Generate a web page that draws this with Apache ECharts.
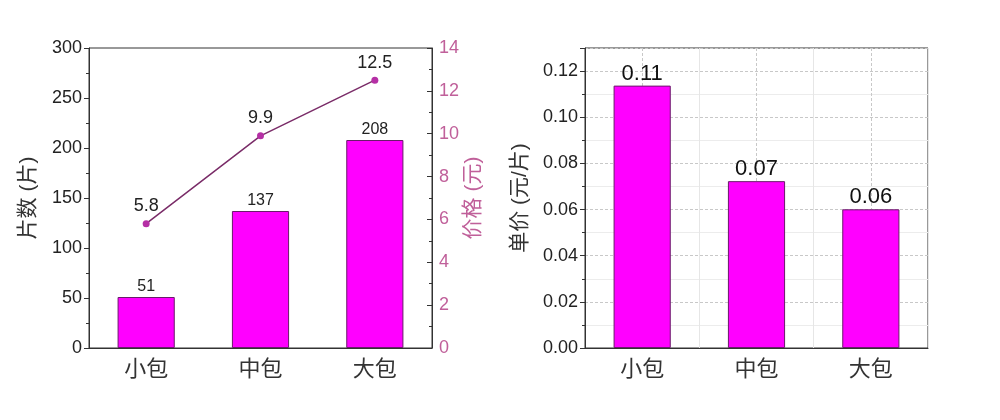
<!DOCTYPE html>
<html>
<head>
<meta charset="utf-8">
<script src="https://cdn.jsdelivr.net/npm/echarts@6/dist/echarts.min.js"></script>
<style>html,body{margin:0;padding:0;background:#fff}#c{width:1000px;height:420px}</style>
</head>
<body>
<div id="c"></div>
<script>
const categories = ['小包', '中包', '大包'];
const pieces = [51, 137, 208];
const prices = [5.8, 9.9, 12.5];
const unitPrices = [0.1137, 0.0723, 0.0601];

const FONT = '"Liberation Sans", Arial, "Noto Sans CJK SC", sans-serif';
const AXIS = '#333';
const PINK = '#c0609a';

// helper axis: half-category steps so split lines can sit on category centres
const halfSteps = [];
for (let i = 0; i <= categories.length * 2; i++) halfSteps.push(String(i));

const chart = echarts.init(document.getElementById('c'));
chart.setOption({
  animation: false,
  backgroundColor: '#fff',
  textStyle: { fontFamily: FONT },
  grid: [
    { left: 89, right: 568, top: 48, bottom: 72, show: true, borderColor: AXIS, borderWidth: 1, containLabel: false },
    { left: 585, right: 72, top: 48, bottom: 72, show: true, borderColor: AXIS, borderWidth: 1, containLabel: false }
  ],
  xAxis: [
    { type: 'category', gridIndex: 0, data: categories,
      axisLine: { lineStyle: { color: AXIS, width: 1 } }, axisTick: { show: false },
      axisLabel: { color: '#333', fontSize: 22, margin: 11, fontFamily: FONT } },
    { type: 'category', gridIndex: 1, data: categories,
      axisLine: { lineStyle: { color: AXIS, width: 1 } }, axisTick: { show: false },
      splitLine: { show: true, lineStyle: { color: '#e6e6e6', width: 1 } },
      axisLabel: { color: '#333', fontSize: 22, margin: 11, fontFamily: FONT } },
    { type: 'category', gridIndex: 1, data: halfSteps, boundaryGap: false, position: 'top',
      axisLine: { show: false }, axisTick: { show: false }, axisLabel: { show: false },
      splitLine: { show: true, interval: (i) => i % 2 === 1,
        lineStyle: { color: '#c8c8c8', type: [3, 2], width: 1 } } }
  ],
  yAxis: [
    { type: 'value', gridIndex: 0, min: 0, max: 300, interval: 50,
      name: '片数 (片)', nameLocation: 'middle', nameGap: 50, nameRotate: 90,
      nameTextStyle: { color: '#333', fontSize: 21, fontFamily: FONT },
      axisLine: { show: true, lineStyle: { color: AXIS } },
      axisTick: { show: true, length: 5, lineStyle: { color: AXIS } },
      minorTick: { show: true, splitNumber: 2, length: 3, lineStyle: { color: AXIS } },
      splitLine: { show: false },
      axisLabel: { color: '#222', fontSize: 18, margin: 7 } },
    { type: 'value', gridIndex: 0, position: 'right', min: 0, max: 14, interval: 2,
      name: '价格 (元)', nameLocation: 'middle', nameGap: 30, nameRotate: 90,
      nameTextStyle: { color: PINK, fontSize: 21, fontFamily: FONT },
      axisLine: { show: true, lineStyle: { color: AXIS } },
      axisTick: { show: true, inside: true, length: 5, lineStyle: { color: AXIS } },
      minorTick: { show: true, splitNumber: 2, length: 3, lineStyle: { color: AXIS } },
      splitLine: { show: false },
      axisLabel: { color: PINK, fontSize: 18, margin: 7 } },
    { type: 'value', gridIndex: 1, min: 0, max: 0.13, interval: 0.02,
      name: '单价 (元/片)', nameLocation: 'middle', nameGap: 54, nameRotate: 90,
      nameTextStyle: { color: '#333', fontSize: 21, fontFamily: FONT },
      axisLine: { show: true, lineStyle: { color: AXIS } },
      axisTick: { show: true, length: 5, lineStyle: { color: AXIS } },
      minorTick: { show: true, splitNumber: 2, length: 3, lineStyle: { color: AXIS } },
      splitLine: { show: true, lineStyle: { color: '#c8c8c8', type: [3, 2], width: 1 } },
      minorSplitLine: { show: true, lineStyle: { color: '#ececec', width: 1 } },
      axisLabel: { color: '#222', fontSize: 18, margin: 7, showMaxLabel: false,
        formatter: v => (v > 0.125 ? '' : v.toFixed(2)) } }
  ],
  series: [
    { type: 'bar', xAxisIndex: 0, yAxisIndex: 0, data: pieces, barWidth: '50%', z: 3,
      itemStyle: { color: '#ff00ff', borderColor: '#6a1a6a', borderWidth: 1 },
      label: { show: true, position: 'top', distance: 2, color: '#222', fontSize: 16 } },
    { type: 'line', xAxisIndex: 0, yAxisIndex: 1, data: prices, z: 4,
      lineStyle: { color: '#7a2c68', width: 1.5 },
      symbol: 'circle', symbolSize: 7,
      itemStyle: { color: '#b52fa5' },
      label: { show: true, position: 'top', distance: 5, color: '#222', fontSize: 18 } },
    { type: 'bar', xAxisIndex: 1, yAxisIndex: 2, data: unitPrices, barWidth: '50%', z: 3,
      itemStyle: { color: '#ff00ff', borderColor: '#6a1a6a', borderWidth: 1 },
      label: { show: true, position: 'top', distance: 1, color: '#111', fontSize: 22,
        formatter: p => p.value.toFixed(2) } }
  ]
});
</script>
</body>
</html>
